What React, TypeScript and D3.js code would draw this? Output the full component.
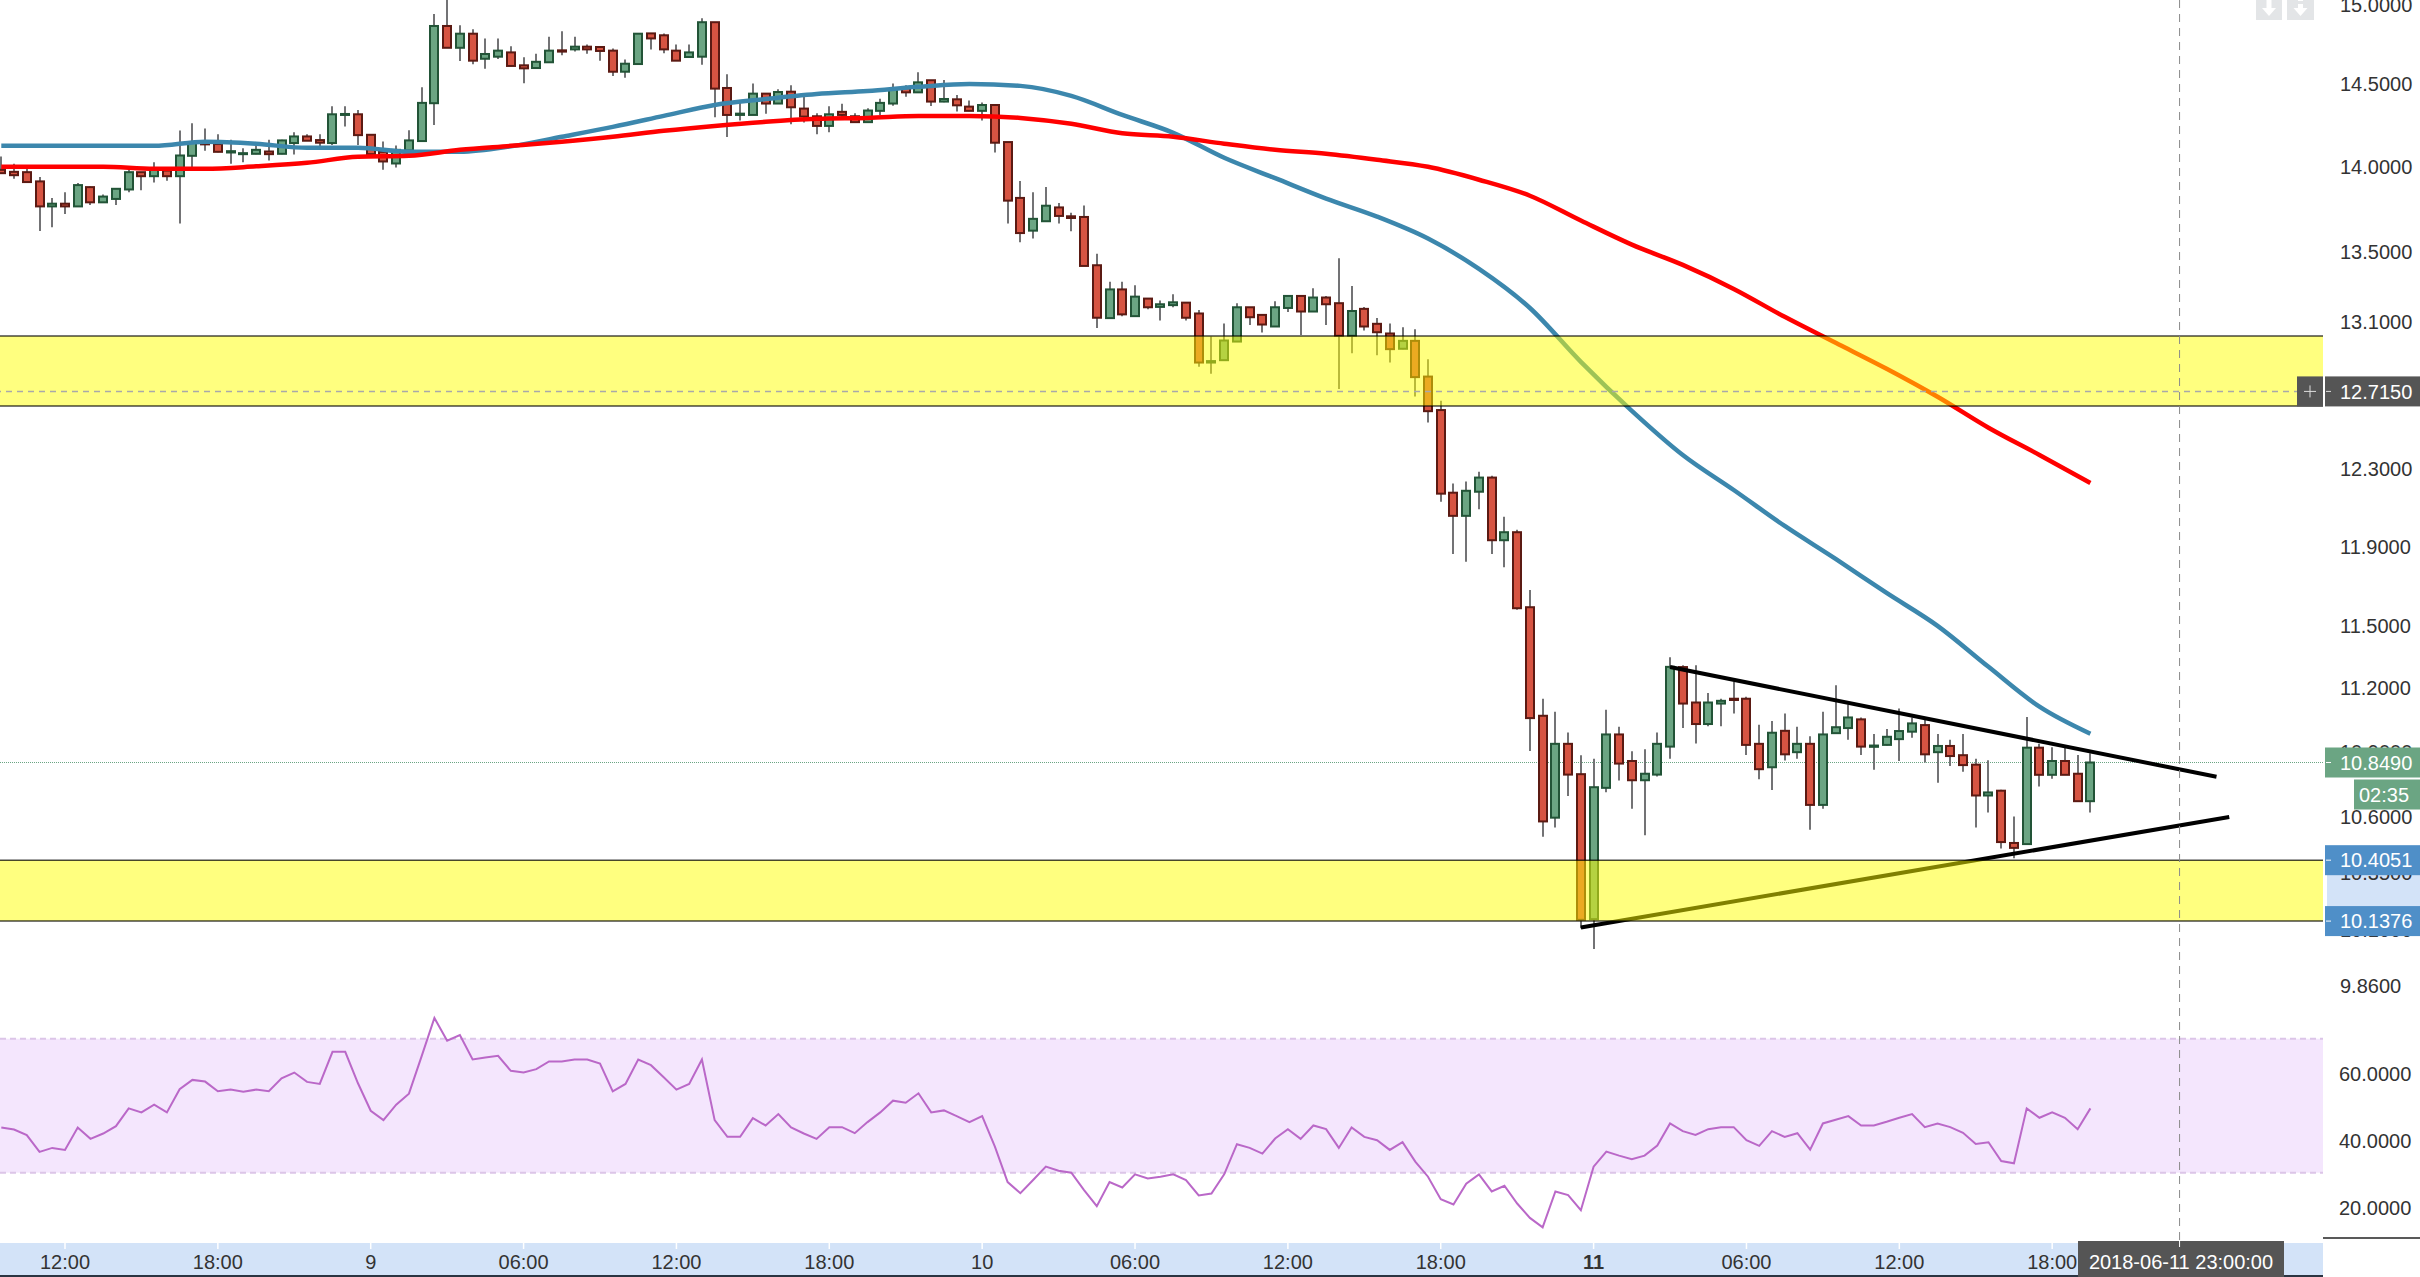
import React from "react";
import * as d3 from "d3";

// 30 minute bars, first bar sits 5 bars before the 12:00 label of the 8th
const opens = [
  13.979, 13.967, 13.965, 13.91, 13.762, 13.778, 13.762, 13.876, 13.786, 13.806,
  13.862, 13.965, 13.941, 13.975, 13.941, 14.063, 14.146, 14.134, 14.083, 14.073,
  14.075, 14.089, 14.075, 14.14, 14.18, 14.158, 14.14, 14.311, 14.315, 14.19,
  14.087, 14.017, 14.095, 14.152, 14.383, 14.866, 14.728, 14.817, 14.659, 14.672,
  14.699, 14.618, 14.601, 14.637, 14.712, 14.718, 14.735, 14.733, 14.71, 14.578,
  14.626, 14.819, 14.807, 14.71, 14.67, 14.672, 14.89, 14.477, 14.311, 14.311,
  14.442, 14.381, 14.454, 14.35, 14.303, 14.244, 14.33, 14.303, 14.267, 14.336,
  14.381, 14.477, 14.45, 14.525, 14.393, 14.407, 14.362, 14.336, 14.372, 14.146,
  13.812, 13.62, 13.675, 13.756, 13.704, 13.7, 13.42, 13.12, 13.282, 13.131,
  13.23, 13.183, 13.193, 13.207, 13.146, 12.873, 12.886, 12.989, 13.181, 13.138,
  13.073, 13.177, 13.245, 13.157, 13.236, 13.204, 13.021, 13.172, 13.088, 13.034,
  12.949, 12.993, 12.796, 12.614, 12.176, 12.056, 12.181, 12.255, 11.931, 11.972,
  11.594, 11.068, 10.596, 10.936, 10.795, 10.146, 10.732, 10.98, 10.856, 10.767,
  10.793, 10.923, 11.301, 11.131, 11.029, 11.126, 11.149, 11.149, 10.936, 10.827,
  10.997, 10.897, 10.936, 10.654, 10.986, 11.01, 11.051, 10.922, 10.931, 10.958,
  10.993, 11.024, 10.897, 10.926, 10.883, 10.839, 10.697, 10.719, 10.482, 10.477,
  10.918, 10.792, 10.856, 10.797, 10.671,
];
const closes = [
  13.959, 13.947, 13.906, 13.762, 13.778, 13.762, 13.888, 13.786, 13.82, 13.866,
  13.965, 13.941, 13.989, 13.941, 14.065, 14.146, 14.132, 14.087, 14.091, 14.079,
  14.099, 14.073, 14.156, 14.18, 14.154, 14.142, 14.315, 14.317, 14.188, 14.073,
  14.029, 14.099, 14.156, 14.385, 14.866, 14.728, 14.817, 14.647, 14.689, 14.71,
  14.614, 14.599, 14.64, 14.71, 14.704, 14.735, 14.718, 14.708, 14.578, 14.628,
  14.817, 14.787, 14.718, 14.647, 14.699, 14.89, 14.473, 14.311, 14.319, 14.442,
  14.381, 14.452, 14.358, 14.301, 14.244, 14.315, 14.311, 14.267, 14.338, 14.385,
  14.467, 14.45, 14.512, 14.393, 14.409, 14.37, 14.336, 14.372, 14.142, 13.796,
  13.606, 13.689, 13.766, 13.706, 13.694, 13.416, 13.122, 13.282, 13.141, 13.241,
  13.181, 13.198, 13.209, 13.122, 12.873, 12.881, 12.995, 13.181, 13.125, 13.084,
  13.181, 13.245, 13.157, 13.236, 13.198, 13.021, 13.16, 13.073, 13.041, 12.947,
  12.993, 12.793, 12.608, 12.171, 12.056, 12.186, 12.255, 11.931, 11.972, 11.589,
  11.057, 10.579, 10.936, 10.793, 10.143, 10.735, 10.98, 10.844, 10.767, 10.797,
  10.936, 11.302, 11.126, 11.029, 11.131, 11.139, 11.143, 10.931, 10.818, 10.988,
  10.887, 10.936, 10.654, 10.98, 11.014, 11.06, 10.923, 10.928, 10.969, 10.996,
  11.032, 10.887, 10.926, 10.879, 10.837, 10.697, 10.711, 10.486, 10.46, 10.918,
  10.792, 10.856, 10.792, 10.671, 10.849,
];
const highs = [
  14.059, 14.015, 13.989, 13.936, 13.811, 13.846, 13.9, 13.88, 13.832, 13.87,
  14.0, 13.965, 14.025, 13.979, 14.216, 14.261, 14.228, 14.194, 14.16, 14.109,
  14.136, 14.16, 14.16, 14.206, 14.194, 14.194, 14.364, 14.364, 14.342, 14.19,
  14.15, 14.125, 14.218, 14.482, 14.942, 15.05, 14.87, 14.845, 14.786, 14.786,
  14.737, 14.668, 14.691, 14.798, 14.832, 14.798, 14.749, 14.737, 14.724, 14.655,
  14.82, 14.819, 14.819, 14.749, 14.749, 14.915, 14.89, 14.562, 14.401, 14.504,
  14.446, 14.469, 14.494, 14.423, 14.321, 14.364, 14.379, 14.321, 14.352, 14.411,
  14.504, 14.494, 14.574, 14.527, 14.527, 14.434, 14.399, 14.387, 14.375, 14.146,
  13.912, 13.846, 13.877, 13.782, 13.724, 13.768, 13.486, 13.325, 13.325, 13.306,
  13.23, 13.219, 13.254, 13.209, 13.166, 13.017, 13.09, 13.204, 13.183, 13.138,
  13.215, 13.245, 13.245, 13.289, 13.245, 13.46, 13.302, 13.183, 13.12, 13.09,
  13.069, 13.058, 12.891, 12.665, 12.224, 12.235, 12.286, 12.265, 12.052, 11.984,
  11.68, 11.149, 11.087, 10.989, 10.883, 10.866, 11.096, 11.016, 10.901, 10.911,
  10.989, 11.349, 11.31, 11.31, 11.176, 11.149, 11.232, 11.158, 11.026, 11.043,
  11.079, 11.016, 10.972, 11.087, 11.213, 11.121, 11.06, 10.982, 11.006, 11.103,
  11.06, 11.049, 10.982, 10.955, 10.982, 10.867, 10.86, 10.723, 10.601, 11.062,
  10.936, 10.92, 10.916, 10.884, 10.892,
];
const lows = [
  13.959, 13.926, 13.904, 13.618, 13.64, 13.718, 13.762, 13.77, 13.786, 13.77,
  13.846, 13.858, 13.904, 13.914, 13.662, 13.995, 14.093, 14.085, 14.015, 14.025,
  14.073, 14.035, 14.073, 14.071, 14.152, 14.119, 14.128, 14.24, 14.128, 14.073,
  13.979, 13.993, 14.095, 14.152, 14.25, 14.728, 14.645, 14.624, 14.597, 14.657,
  14.612, 14.506, 14.599, 14.637, 14.681, 14.704, 14.691, 14.647, 14.551, 14.541,
  14.624, 14.718, 14.693, 14.645, 14.668, 14.622, 14.297, 14.176, 14.277, 14.311,
  14.319, 14.379, 14.254, 14.265, 14.194, 14.206, 14.285, 14.267, 14.267, 14.311,
  14.368, 14.423, 14.45, 14.366, 14.389, 14.332, 14.334, 14.277, 14.083, 13.662,
  13.552, 13.575, 13.675, 13.662, 13.616, 13.416, 13.064, 13.12, 13.131, 13.131,
  13.17, 13.107, 13.181, 13.107, 12.85, 12.811, 12.886, 12.988, 13.081, 13.039,
  13.071, 13.155, 13.026, 13.155, 13.081, 12.728, 12.924, 13.051, 12.913, 12.873,
  12.947, 12.687, 12.547, 12.129, 11.861, 11.822, 12.09, 11.861, 11.794, 11.581,
  10.903, 10.51, 10.552, 10.695, 10.107, 10.017, 10.712, 10.766, 10.636, 10.517,
  10.784, 10.866, 11.01, 10.937, 11.018, 11.018, 11.079, 10.884, 10.772, 10.722,
  10.858, 10.867, 10.541, 10.636, 10.982, 10.955, 10.884, 10.815, 10.928, 10.856,
  10.964, 10.849, 10.755, 10.833, 10.806, 10.552, 10.619, 10.457, 10.414, 10.477,
  10.738, 10.774, 10.792, 10.669, 10.619,
];

// moving averages, read every 4th bar
const maEvery = 4;
const maFast = [
  14.123, 14.123, 14.123, 14.123, 14.148, 14.136, 14.111, 14.111, 14.087, 14.087,
  14.12, 14.178, 14.238, 14.305, 14.372, 14.409, 14.44, 14.459, 14.484, 14.502,
  14.49, 14.428, 14.311, 14.202, 14.051, 13.929, 13.808, 13.702, 13.574, 13.399,
  13.177, 12.877, 12.61, 12.374, 12.19, 12.004, 11.836, 11.665, 11.502, 11.302,
  11.111, 10.983,
];
const maSlow = [
  13.997, 13.997, 13.997, 13.985, 13.985, 14.0, 14.021, 14.057, 14.063, 14.099,
  14.123, 14.148, 14.178, 14.214, 14.244, 14.269, 14.287, 14.293, 14.305, 14.305,
  14.293, 14.257, 14.199, 14.178, 14.136, 14.099, 14.075, 14.039, 13.997, 13.92,
  13.825, 13.679, 13.539, 13.422, 13.285, 13.127, 12.982, 12.839, 12.686, 12.519,
  12.374, 12.227,
];

const rsi = [
  43.5, 42.9, 41.2, 36.2, 37.4, 36.8, 43.5, 40.1, 41.7, 43.9,
  49.2, 48, 50.3, 48, 54.9, 57.7, 57.2, 54.3, 54.8, 54.2,
  54.8, 54.3, 58.2, 59.9, 57.1, 56.5, 66.1, 66.1, 56.7, 48.5,
  45.7, 50.3, 53.6, 64.8, 76.2, 69.4, 71.1, 63.8, 64.4, 64.9,
  60.4, 59.9, 60.9, 63.2, 63.2, 63.8, 63.8, 62.6, 54.3, 56.5,
  63.8, 62.1, 58.5, 54.8, 56.5, 63.8, 45.7, 40.7, 40.7, 46.3,
  44.1, 47.5, 43.5, 41.7, 40.1, 43.6, 43.6, 41.8, 45.1, 48,
  51.5, 50.9, 53.7, 48, 48.6, 46.9, 45.1, 46.9, 37.8, 27.2,
  23.9, 27.8, 31.8, 30.6, 30, 24.8, 20, 27.2, 25.6, 29.5,
  28.3, 28.8, 29.5, 27.8, 23.2, 23.8, 29.5, 38.5, 37.4, 35.7,
  40.2, 43, 40.1, 44.1, 43, 37.4, 43.5, 40.7, 39.7, 36.8,
  39.1, 33.3, 28.8, 22.1, 20.5, 26.7, 29.5, 24.4, 26.1, 20.8,
  16.5, 13.7, 24.4, 23.3, 18.8, 31.8, 36.3, 35.1, 34, 35.1,
  38.1, 44.7, 42.4, 41.3, 43, 43.6, 43.6, 39.7, 38, 42.4,
  40.7, 41.8, 36.9, 44.7, 45.8, 46.9, 44.1, 44.1, 45.2, 46.4,
  47.5, 43.6, 44.7, 43.6, 41.9, 38.6, 39.1, 33.5, 32.8, 49.2,
  46.4, 48, 46.4, 43, 49.2,
];

const priceTicks = [15, 14.5, 14, 13.5, 13.1, 12.3, 11.9, 11.5, 11.2, 10.9, 10.6, 10.35, 10.1, 9.86];
const rsiTicks = [60, 40, 20];
const timeLabels = ["12:00", "18:00", "9", "06:00", "12:00", "18:00", "10", "06:00", "12:00", "18:00", "11", "06:00", "12:00", "18:00"];
const firstLabelBar = 5;
const barsPerLabel = 12;

const zones = [
  [13.02, 12.636],
  [10.4051, 10.1376],
];
const trendLines = [
  [[131, 11.301], [173.9, 10.783]],
  [[124, 10.11], [174.9, 10.599]],
];
const lastPrice = 10.849;
const cursorPrice = 12.715;
const cursorBar = 171;
const zoneLabels = [10.4051, 10.1376];

const W = 2420;
const H = 1277;
const paneRight = 2323;
const axisTop = 1243;
const font = "'Liberation Sans', Arial, sans-serif";

const UP = "#6ba583";
const DOWN = "#d75442";
const UP_BORDER = "#225437";
const DOWN_BORDER = "#5b1a13";
const WICK = "#737375";

const App = () => {
  const x = d3.scaleLinear().domain([0, opens.length - 1]).range([1.3, 2090.4]);
  const y = d3.scaleLog().domain([15, 9.86]).range([5, 986]);
  const yRsi = d3.scaleLinear().domain([70, 30]).range([1038.7, 1172.7]);

  const maLine = d3
    .line<number>()
    .x((_, i) => x(i * maEvery))
    .y((d) => y(d))
    .curve(d3.curveMonotoneX);
  const rsiLine = d3
    .line<number>()
    .x((_, i) => x(i))
    .y((d) => yRsi(d));
  const trendLine = d3
    .line<number[]>()
    .x((d) => x(d[0]))
    .y((d) => y(d[1]));

  const cx = (i: number) => Math.round(x(i));
  const cursorX = x(cursorBar);

  return (
    <svg
      width={W}
      height={H}
      viewBox={`0 0 ${W} ${H}`}
      style={{ position: "fixed", left: 0, top: 0, background: "#fff", display: "block" }}
      fontFamily={font}
    >
      {/* rsi pane */}
      <rect
        x={0}
        y={yRsi(70)}
        width={paneRight}
        height={yRsi(30) - yRsi(70)}
        fill="#f4e6fd"
      />
      {[70, 30].map((v) => (
        <line
          key={v}
          x1={0}
          x2={paneRight}
          y1={yRsi(v)}
          y2={yRsi(v)}
          stroke="#dcc5e8"
          strokeWidth={2}
          strokeDasharray="6 4"
        />
      ))}
      <path d={rsiLine(rsi) || ""} fill="none" stroke="#ba68c8" strokeWidth={2} />

      {/* last price line */}
      <line
        x1={0}
        x2={paneRight}
        y1={y(lastPrice)}
        y2={y(lastPrice)}
        stroke={UP}
        strokeWidth={1}
        strokeDasharray="1 1"
      />

      {/* candles */}
      {opens.map((o, i) => {
        const c = closes[i];
        const up = c >= o;
        const top = y(Math.max(o, c));
        const bottom = y(Math.min(o, c));
        return (
          <g key={i}>
            <line
              x1={cx(i)}
              x2={cx(i)}
              y1={y(highs[i])}
              y2={y(lows[i])}
              stroke={WICK}
              strokeWidth={2}
            />
            <rect
              x={cx(i) - 4}
              y={top}
              width={8}
              height={Math.max(bottom - top, 1)}
              fill={up ? UP : DOWN}
              stroke={up ? UP_BORDER : DOWN_BORDER}
              strokeWidth={2}
            />
          </g>
        );
      })}

      <path d={maLine(maFast) || ""} fill="none" stroke="#3c87ad" strokeWidth={4.5} strokeLinejoin="round" />
      <path d={maLine(maSlow) || ""} fill="none" stroke="#ff0000" strokeWidth={4.5} strokeLinejoin="round" />

      {trendLines.map((t, i) => (
        <path key={i} d={trendLine(t) || ""} fill="none" stroke="#000" strokeWidth={4} />
      ))}

      {/* yellow zones sit over the marks */}
      {zones.map((z, i) => (
        <g key={i}>
          <rect
            x={0}
            y={y(z[0])}
            width={paneRight}
            height={y(z[1]) - y(z[0])}
            fill="#ffff00"
            fillOpacity={0.5}
          />
          {z.map((p) => (
            <line
              key={p}
              x1={0}
              x2={paneRight}
              y1={y(p)}
              y2={y(p)}
              stroke="#000"
              strokeOpacity={0.72}
              strokeWidth={1.5}
            />
          ))}
        </g>
      ))}

      {/* crosshair */}
      <line
        x1={0}
        x2={2297}
        y1={y(cursorPrice)}
        y2={y(cursorPrice)}
        stroke="#a9a9a9"
        strokeWidth={1.5}
        strokeDasharray="6 5"
        strokeDashoffset={-6}
      />
      <line
        x1={cursorX}
        x2={cursorX}
        y1={0}
        y2={axisTop}
        stroke="#8a8a8a"
        strokeWidth={1}
        strokeDasharray="8 6"
      />

      {/* price axis */}
      <rect x={2327} y={y(10.4051)} width={W - 2327} height={y(10.1376) - y(10.4051)} fill="#d3e3f8" />
      {priceTicks.map((p) => (
        <text key={p} x={2340} y={y(p)} dy="0.36em" fontSize={20} fill="#333">
          {p.toFixed(4)}
        </text>
      ))}
      {rsiTicks.map((v) => (
        <text key={v} x={2339} y={yRsi(v)} dy="0.42em" fontSize={20} fill="#333">
          {v.toFixed(4)}
        </text>
      ))}
      <line x1={paneRight} x2={W} y1={1238} y2={1238} stroke="#222" strokeWidth={1.5} />

      {/* last price + countdown */}
      <rect x={2325} y={y(lastPrice) - 15} width={W - 2325} height={30} fill={UP} />
      <line x1={2326} x2={2331} y1={y(lastPrice)} y2={y(lastPrice)} stroke="#fff" strokeWidth={1} />
      <text x={2340} y={y(lastPrice)} dy="0.36em" fontSize={20} fill="#fff">
        {lastPrice.toFixed(4)}
      </text>
      <rect x={2354} y={y(lastPrice) + 17} width={W - 2354} height={30} fill={UP} />
      <text x={2359} y={y(lastPrice) + 32} dy="0.36em" fontSize={20} fill="#fff">
        02:35
      </text>

      {/* zone labels */}
      {zoneLabels.map((p) => (
        <g key={p}>
          <rect x={2325} y={y(p) - 15} width={W - 2325} height={30} fill="#4f8fc8" />
          <line x1={2326} x2={2331} y1={y(p)} y2={y(p)} stroke="#fff" strokeWidth={1} />
          <text x={2340} y={y(p)} dy="0.36em" fontSize={20} fill="#fff">
            {p.toFixed(4)}
          </text>
        </g>
      ))}

      {/* cursor price label and plus button */}
      <rect x={2297} y={y(cursorPrice) - 15} width={26} height={30} fill="#555" />
      <path
        d={`M2304 ${y(cursorPrice)}H2316M2310 ${y(cursorPrice) - 6}V${y(cursorPrice) + 6}`}
        stroke="#ddd"
        strokeWidth={1}
      />
      <rect x={2325} y={y(cursorPrice) - 15} width={W - 2325} height={30} fill="#555" />
      <line x1={2326} x2={2331} y1={y(cursorPrice)} y2={y(cursorPrice)} stroke="#ddd" strokeWidth={1} />
      <text x={2340} y={y(cursorPrice)} dy="0.36em" fontSize={20} fill="#fff">
        {cursorPrice.toFixed(4)}
      </text>

      {/* scale buttons at the top */}
      <rect x={2256} y={0} width={26} height={20} fill="#e3e5e7" />
      <rect x={2287} y={0} width={27} height={20} fill="#e3e5e7" />
      <path d="M2266.5 0h5v8h4.5l-7 8-7-8h4.5z" fill="#fff" />
      <path d="M2298 0h5v1h-5zM2298 4h5v4h4.5l-7 8-7-8h4.5z" fill="#fff" />

      {/* time axis */}
      <rect x={0} y={axisTop} width={paneRight} height={H - axisTop} fill="#d3e3f8" />
      <line x1={0} x2={paneRight} y1={H - 1} y2={H - 1} stroke="#2a3442" strokeWidth={2} />
      {timeLabels.map((t, i) => {
        const tx = x(firstLabelBar + i * barsPerLabel);
        return (
          <g key={i}>
            <line x1={tx} x2={tx} y1={axisTop} y2={axisTop + 6} stroke="#fff" strokeWidth={1.5} />
            <text
              x={tx}
              y={1262}
              dy="0.36em"
              textAnchor="middle"
              fontSize={20}
              fontWeight={t === "11" ? 700 : 400}
              fill="#333"
            >
              {t}
            </text>
          </g>
        );
      })}
      <rect x={2078} y={1241} width={206} height={H - 1241} fill="#555" />
      <line x1={cursorX} x2={cursorX} y1={1241} y2={1247} stroke="#fff" strokeWidth={1} />
      <text x={2181} y={1262} dy="0.36em" textAnchor="middle" fontSize={20} fill="#fff">
        2018-06-11 23:00:00
      </text>
    </svg>
  );
};

export default App;
